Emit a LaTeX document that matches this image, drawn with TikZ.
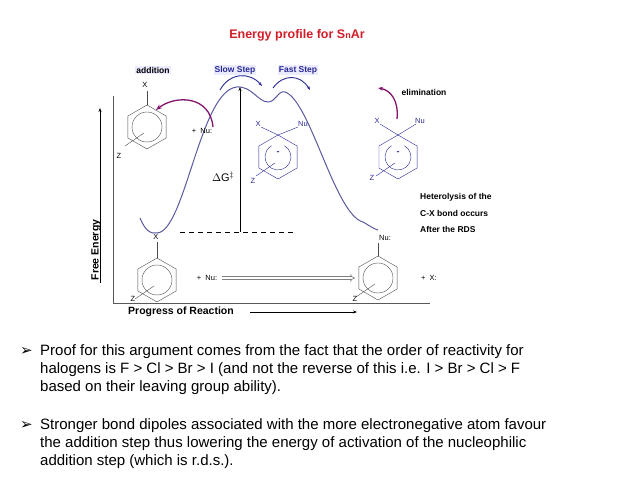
\documentclass[tikz,border=0pt]{standalone}
\usepackage{fontspec}
\setmainfont{Liberation Sans}
\newfontfamily\djv{DejaVu Sans}
\usetikzlibrary{arrows.meta}
\definecolor{ttl}{RGB}{210,30,40}
\definecolor{curv}{RGB}{90,90,160}
\definecolor{blu}{RGB}{40,40,150}
\definecolor{purp}{RGB}{130,20,110}
\tikzset{
  lbl/.style={font=\fontsize{8.5}{9}\selectfont\bfseries,inner sep=1pt},
  sm/.style={font=\fontsize{7.5}{8}\selectfont,inner sep=1pt},
  body/.style={font=\fontsize{15}{17}\selectfont,anchor=west,inner sep=0pt},
  hl/.style={fill=blue!8},
  pics/benz/.style={code={
    \draw[#1] (90:22) -- (30:22) -- (-30:22) -- (-90:22) -- (-150:22) -- (150:22) -- cycle;
    \draw[#1] (0,0) circle (15);
    \draw[#1] (-3,6) -- (-22,19);
  }},
  pics/inter/.style={code={
    \draw[#1] (90:22) -- (30:22) -- (-30:22) -- (-90:22) -- (-150:22) -- (150:22) -- cycle;
    \draw[#1] (-60:13) arc (-60:240:13);
    \draw[#1] (-3,6) -- (-22,19);
    \node[text=#1,font=\fontsize{9}{9}\selectfont\bfseries,inner sep=0pt] at (0,-4) {-};
  }}
}
\begin{document}
\begin{tikzpicture}[x=1pt,y=-1pt]
\useasboundingbox (0,0) rectangle (638,478);
\node[text=ttl,font=\fontsize{12.5}{13}\selectfont\bfseries] (title) at (297,35) {Energy profile for S\textsc{\fontsize{9}{10}\selectfont n}Ar};
% axes
\coordinate (o) at (113,303);
\coordinate (yt) at (113,96);
\coordinate (xr) at (430,303);
\draw[gray!70!black,line width=0.8pt] (yt) -- (o) -- (xr);
\coordinate (fe1) at (100,283); \coordinate (fe2) at (100,108);
\draw[-{Stealth[length=4pt]},line width=0.9pt] (fe1) -- (fe2);
\node[rotate=90,font=\fontsize{10.5}{11}\selectfont\bfseries] (fe) at (96,250) {Free Energy};
\node[font=\fontsize{10.5}{11}\selectfont\bfseries] (pr) at (181,312) {Progress of Reaction};
\coordinate (pa1) at (250,312); \coordinate (pa2) at (357,312);
\draw[-{Stealth[length=4pt]},line width=0.9pt] (pa1) -- (pa2);
% curve
\draw[curv,line width=1pt] (140,218) .. controls (145,230) and (150,234) .. (157,233)
  .. controls (185,232) and (200,90) .. (237,87)
  .. controls (252,86) and (258,102) .. (268,102)
  .. controls (276,102) and (278,90) .. (285,92)
  .. controls (310,100) and (335,215) .. (363,222)
  .. controls (370,226) and (374,229) .. (378,230);
\coordinate (d1) at (180,232); \coordinate (d2) at (295,232);
\draw[dash pattern=on 5pt off 4pt] (d1) -- (d2);
\coordinate (g1) at (240,232); \coordinate (g2) at (240,87);
\draw[-{Stealth[length=4pt]},line width=1pt] (g1) -- (g2);
\node[font=\fontsize{11}{12}\selectfont] (dg) at (223,177) {$\Delta$G$^{\ddagger}$};
% rings
\pic at (147,127) {benz=black!70};
\node[sm] (x1) at (145,85) {X}; \draw[black!70] (147,105) -- (147,91);
\node[sm] (z1) at (119,156) {Z};
\pic at (157,280) {benz=black!70};
\node[sm] (x2) at (156,237) {X}; \draw[black!70] (157,258) -- (157,242);
\node[sm] (z2) at (133,299) {Z};
\pic at (378,278) {benz=black!70};
\node[sm] (nu3) at (385,238) {Nu:}; \draw[black!70] (378,256) -- (378,243);
\node[sm] (z3) at (355,299) {Z};
\pic at (278,157) {inter=blu};
\node[sm,text=blu] (x4) at (258,124) {X}; \node[sm,text=blu] (nu4) at (303,124) {Nu};
\draw[blu] (278,135) -- (261,127); \draw[blu] (278,135) -- (298,127);
\node[sm,text=blu] (z4) at (253,181) {Z};
\pic at (398,157) {inter=blu};
\node[sm,text=blu] (x5) at (377,121) {X}; \node[sm,text=blu] (nu5) at (420,121) {Nu};
\draw[blu] (398,135) -- (380,124); \draw[blu] (398,135) -- (416,124);
\node[sm,text=blu] (z5) at (372,178) {Z};
% plus
\node[sm] (pn1) at (202,131) {+ \ Nu:};
\node[sm] (pn2) at (207,278) {+ \ Nu:};
\node[sm] (px) at (429,278) {+ \ X:};
\coordinate (da1) at (222,278); \coordinate (da2) at (355,278);
\draw[double=white,draw=gray,line width=0.6pt,double distance=2pt,-{Implies}] (da1) -- (da2);
% labels
\node[lbl,hl] (add) at (153,70) {addition};
\node[lbl,hl,text=blu] (slow) at (235,70) {Slow Step};
\node[lbl,hl,text=blu] (fast) at (298,70) {Fast Step};
\node[lbl] (elim) at (424,92) {elimination};
\node[lbl,anchor=west] (h1) at (419,197) {Heterolysis of the};
\node[lbl,anchor=west] (h2) at (419,213) {C-X bond occurs};
\node[lbl,anchor=west] (h3) at (419,229) {After the RDS};
% curved arrows
\coordinate (aa1) at (213,127); \coordinate (aa2) at (156,110);
\draw[purp,line width=1.3pt,-{Stealth[length=6pt]}] (aa1) .. controls (210,95) and (175,95) .. (aa2);
\coordinate (ea1) at (397,119); \coordinate (ea2) at (378,88);
\draw[purp,line width=1.3pt,-{Stealth[length=5pt]}] (ea1) .. controls (399,100) and (390,90) .. (ea2);
\coordinate (sa1) at (220,90); \coordinate (sa2) at (262,86);
\draw[blu,line width=0.9pt,-{Stealth[length=4pt]}] (sa1) .. controls (230,72) and (250,72) .. (sa2);
\coordinate (fa1) at (273,88); \coordinate (fa2) at (310,90);
\draw[blu,line width=0.9pt,-{Stealth[length=4pt]}] (fa1) .. controls (283,74) and (300,74) .. (fa2);
% body text
\node[body] (b1) at (20,352) {\djv ➢};
\node[body] (t1) at (40,352) {Proof for this argument comes from the fact that the order of reactivity for};
\node[body] (t2) at (40,370) {halogens is F > Cl > Br > I (and not the reverse of this i.e. I > Br > Cl > F};
\node[body] (t3) at (40,388) {based on their leaving group ability).};
\node[body] (b2) at (20,426) {\djv ➢};
\node[body] (t4) at (40,426) {Stronger bond dipoles associated with the more electronegative atom favour};
\node[body] (t5) at (40,444) {the addition step thus lowering the energy of activation of the nucleophilic};
\node[body] (t6) at (40,462) {addition step (which is r.d.s.).};
\end{tikzpicture}
\end{document}
